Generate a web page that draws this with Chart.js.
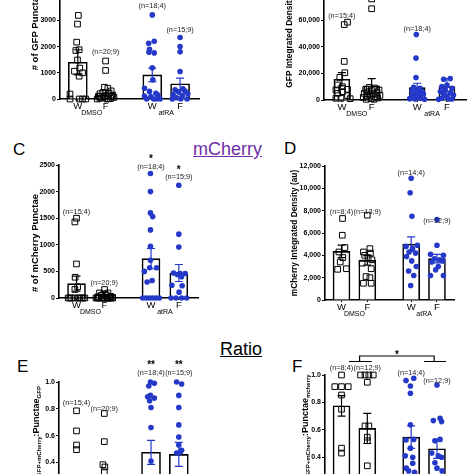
<!DOCTYPE html>
<html>
<head>
<title>GFP / mCherry punctae panels</title>
<style>
  body { margin: 0; width: 474px; height: 474px; overflow: hidden; background: #fff; position: relative;
         font-family: "Liberation Sans", Arial, sans-serif; }
  canvas { position: absolute; }
  .lbl { position: absolute; line-height: 1; font-size: 17px; color: #000; white-space: nowrap; }
</style>
<script src="https://cdn.jsdelivr.net/npm/chart.js"></script>
</head>
<body>
<div class="lbl" style="left:13px;top:141px">C</div>
<div class="lbl" style="left:284px;top:140px">D</div>
<div class="lbl" style="left:17px;top:358px">E</div>
<div class="lbl" style="left:292px;top:358px">F</div>
<div class="lbl" style="left:193px;top:140px;font-size:18px;color:#6f2da8;text-decoration:underline">mCherry</div>
<div class="lbl" style="left:220px;top:340px;font-size:18px;text-decoration:underline">Ratio</div>
<script>
const FONT = '"Liberation Sans", Arial, sans-serif';
const BLUE = '#2539c9';

const groups = ['W', 'F', 'W', 'F'];
const conditions = ['DMSO', 'atRA'];

// A: # of GFP punctae  (points are [x jitter, value])
const aMean = [1400, 240, 920, 580];
const aSem = [480, 90, 260, 220];
const aPts = [
  [[0.02,3190],[-0.01,2860],[-0.04,2170],[-0.07,1850],[0.05,1880],[-0.01,1490],[0.07,1180],[-0.12,1060],[0.17,1000],[0.05,870],[-0.28,190],[-0.28,0],[0.05,0],[0.17,0],[0.29,0]],
  [[0,1450],[0,1090],[-0.04,450],[0.08,410],[0.2,310],[-0.1,250],[0.12,230],[-0.2,200],[0.26,150],[0,130],[-0.26,100],[0.22,90],[-0.05,80],[0.3,60],[-0.15,40],[-0.2,30],[0.18,20],[0.1,10],[-0.3,0],[0.05,0]],
  [[0,3210],[0.07,2200],[-0.13,2130],[-0.1,1900],[-0.12,1780],[0.07,1760],[0,1190],[0.02,730],[-0.28,410],[-0.1,290],[0.13,220],[0.2,150],[-0.28,110],[-0.05,90],[-0.2,0],[0.05,0],[0.15,0],[0.28,0]],
  [[0,2350],[0,2000],[0,1800],[0,1050],[0.1,390],[-0.18,350],[0.18,300],[-0.05,260],[0.28,200],[-0.25,170],[0.08,120],[-0.12,50],[-0.28,0],[0.02,0],[0.25,0]]
];
const aNText = ['', '(n=20;9)', '(n=18;4)', '(n=15;9)'];
const aNy = [0, 1810, 3560, 2620];

// B: GFP integrated density
const bMean = [15600, 10600, 9300, 10100];
const bSem = [5000, 5400, 3300, 6000];
const bPts = [
  [[0.19,58500],[0.08,56700],[0.08,29000],[0.1,20500],[-0.07,17000],[-0.14,11300],[0.02,10000],[0.19,8000],[-0.2,7500],[0.02,6300],[-0.14,5000],[0.19,3300],[-0.2,1300],[-0.03,1300],[0.28,1000]],
  [[0,76000],[0,68600],[-0.08,9500],[0.1,9000],[-0.2,8000],[0.25,7500],[0.02,7000],[-0.1,6300],[0.18,5800],[-0.25,5000],[0.05,4500],[-0.05,3800],[0.28,3500],[-0.15,3000],[0.12,2500],[-0.28,2000],[0.2,1500],[-0.02,1000],[0.08,500],[-0.18,500]],
  [[-0.03,49200],[-0.04,31500],[-0.04,16900],[-0.12,9600],[0.1,8800],[0,7500],[-0.18,7000],[0.16,6300],[0.04,5500],[-0.1,5000],[0.21,4500],[0.08,3800],[-0.18,3000],[-0.01,2000],[0.12,1300],[-0.25,1000],[-0.07,800],[0.25,600]],
  [[0.11,16100],[-0.11,15600],[0,11300],[-0.17,10100],[0.17,8800],[-0.06,7500],[-0.22,6300],[0.11,5500],[-0.11,4300],[0.22,3800],[0,2500],[-0.17,1300],[0.17,800],[0.06,800],[-0.28,500]]
];
const bNText = ['(n=15;4)', '', '(n=18;4)', ''];
const bNy = [63000, 0, 53200, 0];

// C: # of mCherry punctae
const cMean = [270, 80, 740, 470];
const cSem = [140, 50, 190, 160];
const cPts = [
  [[0,1500],[-0.06,1430],[0,640],[-0.05,390],[0.04,210],[-0.06,160],[-0.3,0],[-0.18,0],[-0.06,0],[0.06,0],[0.18,0],[0.3,0],[-0.24,0],[0.12,0],[0.24,0]],
  [[0.01,160],[-0.17,95],[0.13,95],[-0.11,50],[0.07,55],[-0.23,20],[0.23,30],[0.3,10],[-0.3,0],[-0.2,0],[-0.1,0],[0,0],[0.1,0],[0.2,0],[0.3,0],[-0.25,0],[-0.05,0],[0.05,0],[0.15,0],[0.25,0]],
  [[-0.02,2340],[-0.02,2000],[-0.02,1600],[0.06,1530],[-0.02,1280],[-0.02,970],[-0.02,710],[0.2,570],[-0.05,570],[-0.24,500],[0.04,330],[-0.14,300],[-0.3,0],[-0.18,0],[-0.06,0],[0.06,0],[0.18,0],[0.3,0]],
  [[0,2120],[0,1200],[0,960],[-0.19,470],[0.05,460],[0.23,460],[-0.05,440],[0.1,400],[-0.25,240],[0.12,230],[0.01,110],[-0.28,0],[-0.1,0],[0.1,0],[0.28,0]]
];
const cNText = ['(n=15;4)', '(n=20;9)', '(n=18;4)', '(n=15;9)'];
const cNy = [1620, 282, 2460, 2275];
const cStar = ['', '', '*', '*'];
const cStarY = [0, 0, 2650, 2430];

// D: mCherry integrated density
const dMean = [4350, 3550, 5000, 3700];
const dSem = [560, 420, 650, 380];
const dPts = [
  [[0.04,7300],[0.03,5800],[0.13,4700],[-0.1,4300],[0.05,3800],[-0.05,3400],[-0.15,2750],[0.19,2800]],
  [[0,7600],[0.1,4600],[-0.15,4300],[0.12,4200],[-0.1,4000],[0.03,3800],[0.18,3600],[-0.2,3300],[0.15,2800],[-0.05,2100],[0.1,2000],[-0.15,1500],[0.15,1500]],
  [[0,10900],[-0.04,9600],[0.03,7500],[0.24,4900],[-0.2,4800],[0.05,4600],[-0.08,4300],[0.17,4200],[-0.18,3900],[0.02,3500],[0.2,3000],[-0.1,2600],[0.1,2200],[-0.02,1300]],
  [[0,7200],[0,4900],[-0.25,4100],[0.25,4000],[-0.1,3700],[0.1,3600],[0.22,3500],[-0.2,3400],[0.05,3000],[-0.05,2700],[-0.25,2200],[0.25,2200]]
];
const dNText = ['(n=8;4)', '(n=13;9)', '(n=14;4)', '(n=12;9)'];
const dNy = [7880, 7880, 11370, 7050];

// E: ratio GFP+mCherry / GFP
const eMean = [0.2, 0.18, 0.475, 0.46];
const eSem = [0.06, 0.05, 0.09, 0.09];
const ePts = [
  [[0,0.785],[0,0.635],[0,0.53],[0,0.495]],
  [[0,0.765],[0,0.555],[-0.05,0.383],[0.02,0.366],[0,0.33]],
  [[-0.02,1.0],[0.12,0.99],[-0.08,0.97],[-0.02,0.9],[-0.12,0.89],[0.12,0.88],[-0.05,0.86],[0,0.81],[0,0.66],[0,0.41]],
  [[-0.08,1.0],[0.1,0.985],[0,0.9],[0,0.81],[0,0.68],[0,0.59],[0,0.53],[0.1,0.49],[-0.08,0.47],[0.05,0.475]]
];
const eNText = ['(n=15;4)', '(n=20;9)', '(n=18;4)', '(n=15;9)'];
const eNy = [0.84, 0.80, 1.065, 1.065];
const eStar = ['', '', '**', '**'];
const eStarY = [0, 0, 1.14, 1.14];

// F: ratio GFP+mCherry / mCherry
const fMean = [0.775, 0.61, 0.546, 0.461];
const fSem = [0.075, 0.11, 0.082, 0.07];
const fPts = [
  [[0,1.0],[-0.26,0.915],[0,0.915],[0.26,0.915],[0,0.854],[0,0.75],[0,0.466],[0,0.43]],
  [[-0.26,1.0],[-0.09,1.0],[0.06,1.0],[0.23,1.0],[0,0.947],[-0.09,0.628],[0.06,0.628],[0,0.546],[0,0.52],[0,0.337],[0,0.25],[0,0.2]],
  [[-0.2,0.96],[0.1,0.976],[-0.03,0.92],[-0.03,0.867],[-0.03,0.636],[-0.2,0.526],[0.1,0.53],[-0.03,0.466],[-0.23,0.41],[0.06,0.4],[0.06,0.356],[-0.19,0.32],[-0.1,0.3],[0.13,0.29]],
  [[0,0.927],[-0.14,0.667],[0.12,0.684],[0.18,0.66],[-0.08,0.52],[0.12,0.53],[-0.2,0.43],[0.05,0.41],[0.18,0.4],[-0.08,0.36],[0,0.32],[0.2,0.3]]
];
const fNText = ['(n=8;4)', '(n=12;9)', '(n=14;4)', '(n=12;9)'];
const fNy = [1.05, 1.05, 1.015, 0.956];

const noComma = v => String(v);
const comma = v => v.toLocaleString('en-US');
const oneDec = v => v.toFixed(1);

function drawRichTitle(ctx, segs, x, y) {
  ctx.save();
  ctx.translate(x, y);
  ctx.rotate(-Math.PI / 2);
  ctx.fillStyle = '#000';
  ctx.textBaseline = 'middle';
  ctx.textAlign = 'left';
  let total = 0;
  segs.forEach(s => { ctx.font = `bold ${s.s}px ${FONT}`; s.w = ctx.measureText(s.t).width; total += s.w; });
  let cx = -total / 2;
  segs.forEach(s => {
    ctx.font = `bold ${s.s}px ${FONT}`;
    ctx.fillText(s.t, cx, s.sub ? 2.5 : 0);
    cx += s.w;
  });
  ctx.restore();
}

function makePanel(p) {
  const canvas = document.createElement('canvas');
  const cLeft = p.left - p.yw;
  const cTop = p.top - p.padTop;
  canvas.width = p.right - cLeft + 4;
  canvas.height = p.bottom + 20 - cTop;
  canvas.style.left = cLeft + 'px';
  canvas.style.top = cTop + 'px';
  document.body.appendChild(canvas);

  const bars = p.mean.map((m, i) => ({ x: p.pos[i], y: m }));
  const dmso = [], atra = [];
  p.pts.forEach((list, g) => list.forEach(([dx, v]) => (g < 2 ? dmso : atra).push({ x: p.pos[g] + dx, y: v })));
  const mids = [(p.pos[0] + p.pos[1]) / 2, (p.pos[2] + p.pos[3]) / 2];

  const annot = {
    id: 'annot',
    afterDatasetsDraw(chart) {
      const ctx = chart.ctx, xs = chart.scales.x, ys = chart.scales.y;
      ctx.save();
      ctx.lineWidth = 1.2;
      p.mean.forEach((m, g) => {
        const x = xs.getPixelForValue(p.pos[g]);
        const yHi = ys.getPixelForValue(m + p.sem[g]);
        const yLo = ys.getPixelForValue(m - p.sem[g]);
        ctx.strokeStyle = g < 2 ? '#000' : BLUE;
        ctx.beginPath();
        ctx.moveTo(x, yLo); ctx.lineTo(x, yHi);
        ctx.moveTo(x - 4, yHi); ctx.lineTo(x + 4, yHi);
        ctx.moveTo(x - 4, yLo); ctx.lineTo(x + 4, yLo);
        ctx.stroke();
      });
      ctx.restore();
    },
    afterDraw(chart) {
      const ctx = chart.ctx, xs = chart.scales.x, ys = chart.scales.y;
      ctx.save();
      ctx.textAlign = 'center';
      ctx.textBaseline = 'middle';
      ctx.fillStyle = '#222';
      ctx.font = `7.3px ${FONT}`;
      p.nText.forEach((t, g) => {
        if (t) ctx.fillText(t, xs.getPixelForValue(p.pos[g]), ys.getPixelForValue(p.nY[g]));
      });
      ctx.fillStyle = '#000';
      ctx.font = `bold 10px ${FONT}`;
      (p.star || []).forEach((t, g) => {
        if (t) ctx.fillText(t, xs.getPixelForValue(p.pos[g]), ys.getPixelForValue(p.starY[g]) + 2);
      });
      if (p.bracket) {
        const b = p.bracket, top = chart.chartArea.top;
        const px = v => xs.getPixelForValue(v);
        const yT = top - 19, yF = top - 13.5;
        ctx.strokeStyle = '#000';
        ctx.lineWidth = 1.2;
        ctx.beginPath();
        ctx.moveTo(px(b.left[0]), yF); ctx.lineTo(px(b.left[2]), yF);
        ctx.moveTo(px(b.left[1]), yF); ctx.lineTo(px(b.left[1]), yT);
        ctx.lineTo(px(b.right[1]), yT); ctx.lineTo(px(b.right[1]), yF);
        ctx.moveTo(px(b.right[0]), yF); ctx.lineTo(px(b.right[2]), yF);
        ctx.stroke();
        ctx.fillText('*', (px(b.left[1]) + px(b.right[1])) / 2, yT - 1);
      }
      ctx.restore();
      drawRichTitle(ctx, p.title, p.titleX - cLeft, p.titleY - cTop);
    }
  };

  new Chart(canvas, {
    type: 'bar',
    data: {
      datasets: [
        { type: 'scatter', data: dmso, pointStyle: 'rect', pointRadius: 4, borderColor: '#000',
          backgroundColor: 'rgba(0,0,0,0)', borderWidth: 1, order: 1, clip: false, xAxisID: 'x', yAxisID: 'y' },
        { type: 'scatter', data: atra, pointStyle: 'circle', pointRadius: 2.8, borderColor: BLUE,
          backgroundColor: BLUE, borderWidth: 0, order: 2, clip: false, xAxisID: 'x', yAxisID: 'y' },
        { type: 'bar', data: bars, backgroundColor: '#fff', borderColor: '#000', borderWidth: 1.6,
          barThickness: p.barW, order: 3, xAxisID: 'x', yAxisID: 'y' }
      ]
    },
    options: {
      responsive: false,
      animation: false,
      layout: { padding: { top: p.padTop, right: 4, left: 0, bottom: 0 } },
      plugins: { legend: { display: false }, tooltip: { enabled: false } },
      scales: {
        x: {
          type: 'linear', position: 'bottom', min: p.xmin, max: p.xmax, offset: false,
          afterBuildTicks: s => { s.ticks = p.pos.map(v => ({ value: v })); },
          afterFit: s => { s.height = 10; },
          ticks: { autoSkip: false, maxRotation: 0, padding: 0, color: '#000',
                   font: { size: 9.5 }, callback: (v, i) => groups[i] },
          grid: { drawOnChartArea: false, tickLength: 2, color: '#000', offset: false },
          border: { color: '#000', width: 1.6 }
        },
        x2: {
          type: 'linear', position: 'bottom', weight: 1, min: p.xmin, max: p.xmax, offset: false,
          afterBuildTicks: s => { s.ticks = mids.map(v => ({ value: v })); },
          afterFit: s => { s.height = 10; },
          ticks: { autoSkip: false, maxRotation: 0, padding: 0, color: '#000',
                   font: { size: 7 }, callback: (v, i) => conditions[i] },
          grid: { display: false, drawTicks: false, offset: false },
          border: { display: false }
        },
        y: {
          type: 'linear', min: 0, max: p.ymax,
          afterFit: s => { s.width = p.yw; },
          ticks: { stepSize: p.step, padding: 1, color: '#000',
                   font: { size: 7, weight: 'bold' }, callback: p.fmt },
          grid: { drawOnChartArea: false, tickLength: 3, color: '#000' },
          border: { color: '#000', width: 1.6 }
        }
      }
    },
    plugins: [annot]
  });
}

Chart.defaults.font.family = FONT;

const posWide = [0, 1, 2.68, 3.68];
const posNarrow = [0, 1, 2.7, 3.7];

makePanel({ left: 60, right: 200, top: -32, bottom: 99, yw: 30, padTop: 6,
  pos: posWide, xmin: -0.64, xmax: 4.36, ymax: 5000, step: 1000, fmt: noComma, barW: 19,
  mean: aMean, sem: aSem, pts: aPts, nText: aNText, nY: aNy,
  title: [{ t: '# of GFP Punctae', s: 9.5 }], titleX: 35, titleY: 31 });

makePanel({ left: 324, right: 467, top: -33, bottom: 100, yw: 39, padTop: 6,
  pos: [0, 1, 2.53, 3.53], xmin: -0.6, xmax: 4.17, ymax: 100000, step: 20000, fmt: comma, barW: 16,
  mean: bMean, sem: bSem, pts: bPts, nText: bNText, nY: bNy,
  title: [{ t: 'GFP Integrated Density (au)', s: 8.3 }], titleX: 290, titleY: 33 });

makePanel({ left: 59, right: 199, top: 165, bottom: 298, yw: 29, padTop: 14,
  pos: posWide, xmin: -0.63, xmax: 4.37, ymax: 2500, step: 500, fmt: noComma, barW: 18,
  mean: cMean, sem: cSem, pts: cPts, nText: cNText, nY: cNy, star: cStar, starY: cStarY,
  title: [{ t: '# of mCherry Punctae', s: 9.5 }], titleX: 35, titleY: 243 });

makePanel({ left: 325, right: 455, top: 166, bottom: 300, yw: 35, padTop: 8,
  pos: posNarrow, xmin: -0.64, xmax: 4.36, ymax: 12000, step: 2000, fmt: comma, barW: 17,
  mean: dMean, sem: dSem, pts: dPts, nText: dNText, nY: dNy,
  title: [{ t: 'mCherry Integrated Density (au)', s: 8.3 }], titleX: 295, titleY: 233 });

makePanel({ left: 59, right: 199, top: 382, bottom: 516, yw: 29, padTop: 30,
  pos: posWide, xmin: -0.63, xmax: 4.37, ymax: 1.0, step: 0.2, fmt: oneDec, barW: 19,
  mean: eMean, sem: eSem, pts: ePts, nText: eNText, nY: eNy, star: eStar, starY: eStarY,
  title: [{ t: 'Punctae', s: 9 }, { t: 'GFP+mCherry', s: 6, sub: true }, { t: ':Punctae', s: 9 }, { t: 'GFP', s: 6, sub: true }],
  titleX: 37, titleY: 449 });

makePanel({ left: 325, right: 455, top: 375, bottom: 512, yw: 35, padTop: 30,
  pos: posNarrow, xmin: -0.64, xmax: 4.36, ymax: 1.0, step: 0.2, fmt: oneDec, barW: 17,
  mean: fMean, sem: fSem, pts: fPts, nText: fNText, nY: fNy,
  bracket: { left: [0.29, 0.7, 1.17], right: [3.2, 3.59, 4.05] },
  title: [{ t: 'Punctae', s: 9 }, { t: 'GFP+mCherry', s: 6, sub: true }, { t: ':Punctae', s: 9 }, { t: 'mcherry', s: 6, sub: true }],
  titleX: 306, titleY: 443 });
</script>
</body>
</html>
